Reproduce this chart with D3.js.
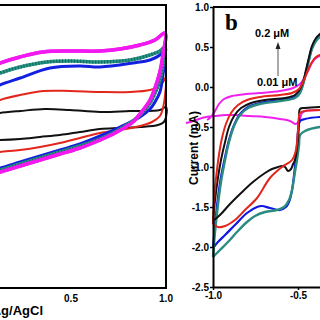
<!DOCTYPE html>
<html>
<head>
<meta charset="utf-8">
<script src="https://d3js.org/d3.v7.min.js"></script>
<style>
body{margin:0;background:#fff;}
svg{display:block;}
text{font-family:Arial,"Liberation Sans",sans-serif;font-weight:bold;fill:#000;}
</style>
</head>
<body>
<div id="chart"></div>
<script>
// ---- panel a (cut off on the left): [E (V), I (mA)], forward then reverse ----
var leftMagenta = [[0.10,0.40],[0.126,0.42],[0.232,0.48],[0.353,0.53],[0.495,0.54],[0.653,0.54],[0.758,0.56],[0.863,0.60],[0.942,0.65],[0.995,0.72],
  [0.984,0.50],[0.968,0.33],[0.942,0.17],[0.916,0.05],[0.863,-0.09],[0.826,-0.17],[0.732,-0.28],[0.653,-0.35],[0.547,-0.43],[0.442,-0.49],[0.337,-0.55],[0.232,-0.61],[0.126,-0.67],[0.10,-0.68]];
var leftTeal = [[0.10,0.30],[0.126,0.32],[0.232,0.38],[0.374,0.43],[0.495,0.44],[0.653,0.43],[0.811,0.45],[0.916,0.50],[0.968,0.54],[0.995,0.58],
  [0.984,0.40],[0.968,0.25],[0.942,0.12],[0.916,0.02],[0.863,-0.10],[0.826,-0.16],[0.732,-0.27],[0.653,-0.34],[0.547,-0.41],[0.442,-0.47],[0.337,-0.53],[0.232,-0.59],[0.126,-0.65],[0.10,-0.66]];
var leftBlue = [[0.10,0.17],[0.126,0.20],[0.232,0.27],[0.389,0.37],[0.547,0.39],[0.653,0.38],[0.826,0.42],[0.916,0.45],[0.968,0.50],[0.995,0.56],
  [0.984,0.30],[0.968,0.13],[0.942,0.03],[0.916,-0.04],[0.863,-0.12],[0.758,-0.22],[0.653,-0.31],[0.547,-0.39],[0.442,-0.45],[0.337,-0.51],[0.232,-0.57],[0.126,-0.63],[0.10,-0.64]];
var leftRed = [[0.10,0.03],[0.126,0.05],[0.232,0.10],[0.353,0.14],[0.495,0.14],[0.653,0.13],[0.811,0.13],[0.916,0.15],[0.953,0.18],[0.984,0.23],[1.0,0.28],
  [0.995,0.10],[0.984,-0.03],[0.968,-0.11],[0.926,-0.17],[0.863,-0.21],[0.758,-0.25],[0.653,-0.28],[0.547,-0.33],[0.442,-0.38],[0.337,-0.42],[0.232,-0.45],[0.126,-0.47],[0.10,-0.48]];
var leftBlack = [[0.10,-0.09],[0.126,-0.08],[0.232,-0.06],[0.363,-0.04],[0.495,-0.05],[0.653,-0.07],[0.811,-0.06],[0.968,-0.05],[1.0,-0.02],
  [1.0,-0.12],[0.989,-0.17],[0.958,-0.20],[0.863,-0.22],[0.758,-0.23],[0.653,-0.24],[0.547,-0.27],[0.442,-0.30],[0.337,-0.32],[0.232,-0.34],[0.126,-0.35],[0.10,-0.35]];
// only the ticks that are inside the crop
var leftXTicks = [0.5, 1.0];

// ---- panel b: [E (V), I (mA)], forward then reverse ----
var rightMagenta = [[-1.035,-0.4125],[-1.012,-0.375],[-0.988,-0.3],[-0.965,-0.2125],[-0.935,-0.15],[-0.888,-0.1125],[-0.806,-0.0875],[-0.724,-0.075],[-0.606,-0.05],[-0.529,-0.0125],[-0.488,0.0375],[-0.465,0.1],[-0.441,0.2],[-0.418,0.3],[-0.394,0.3625],[-0.371,0.3875],[-0.341,0.4125],
  [-0.341,-0.275],[-0.371,-0.2875],[-0.459,-0.3],[-0.476,-0.325],[-0.494,-0.425],[-0.512,-0.4625],[-0.547,-0.425],[-0.606,-0.4],[-0.694,-0.375],[-0.782,-0.3625],[-0.871,-0.35],[-0.924,-0.35],[-0.988,-0.3625],[-1.041,-0.375],[-1.1,-0.4125],[-1.135,-0.4375],[-1.159,-0.45]];
var rightRed = [[-1.0,-1.7125],[-0.994,-1.4125],[-0.982,-1.1375],[-0.965,-0.85],[-0.947,-0.6375],[-0.924,-0.4625],[-0.894,-0.325],[-0.853,-0.225],[-0.8,-0.1625],[-0.724,-0.125],[-0.606,-0.1],[-0.535,-0.075],[-0.494,-0.025],[-0.465,0.0875],[-0.441,0.2125],[-0.418,0.3125],[-0.394,0.375],[-0.371,0.4],[-0.341,0.4125],
  [-0.341,-0.2875],[-0.371,-0.2875],[-0.459,-0.3],[-0.488,-0.325],[-0.5,-0.5375],[-0.512,-0.7875],[-0.535,-0.9125],[-0.594,-1.0],[-0.665,-1.1375],[-0.741,-1.3875],[-0.812,-1.5375],[-0.871,-1.6625],[-0.929,-1.7375],[-0.971,-1.75],[-1.0,-1.7125]];
var rightBlue = [[-1.0,-2.0125],[-0.988,-1.725],[-0.971,-1.3875],[-0.953,-1.125],[-0.929,-0.875],[-0.906,-0.6625],[-0.876,-0.475],[-0.841,-0.3375],[-0.794,-0.25],[-0.724,-0.2],[-0.606,-0.1625],[-0.518,-0.125],[-0.488,-0.0625],[-0.471,0.0375],[-0.453,0.1875],[-0.435,0.35],[-0.418,0.4875],[-0.394,0.5875],[-0.371,0.6375],[-0.341,0.6875],
  [-0.341,-0.375],[-0.371,-0.375],[-0.459,-0.4],[-0.488,-0.425],[-0.5,-0.5625],[-0.506,-0.725],[-0.518,-1.0],[-0.535,-1.2875],[-0.553,-1.4375],[-0.571,-1.5],[-0.606,-1.5375],[-0.665,-1.5125],[-0.712,-1.4875],[-0.741,-1.5],[-0.8,-1.575],[-0.871,-1.725],[-0.929,-1.85],[-0.971,-1.9375],[-1.0,-2.0125]];
var rightBlack = [[-1.0,-1.675],[-0.988,-1.4125],[-0.971,-1.1375],[-0.953,-0.9125],[-0.929,-0.6875],[-0.906,-0.5],[-0.876,-0.3625],[-0.835,-0.2625],[-0.776,-0.2],[-0.694,-0.1625],[-0.576,-0.1375],[-0.518,-0.1],[-0.488,-0.025],[-0.471,0.0625],[-0.453,0.2125],[-0.435,0.375],[-0.418,0.5125],[-0.394,0.6125],[-0.371,0.6625],[-0.341,0.7125],
  [-0.341,-0.25],[-0.371,-0.25],[-0.459,-0.2625],[-0.488,-0.275],[-0.494,-0.4125],[-0.5,-0.6625],[-0.518,-0.9125],[-0.529,-0.9625],[-0.541,-1.025],[-0.559,-1.05],[-0.576,-1.0],[-0.594,-0.9875],[-0.618,-1.0],[-0.653,-1.025],[-0.694,-1.075],[-0.765,-1.1875],[-0.841,-1.3375],[-0.9,-1.4625],[-0.959,-1.6],[-1.0,-1.675]];
var rightTeal = [[-1.0,-2.125],[-0.988,-1.8125],[-0.971,-1.475],[-0.953,-1.1875],[-0.929,-0.9125],[-0.906,-0.6875],[-0.876,-0.4875],[-0.841,-0.35],[-0.794,-0.2625],[-0.724,-0.2125],[-0.606,-0.175],[-0.518,-0.1375],[-0.488,-0.075],[-0.471,0.025],[-0.453,0.175],[-0.435,0.3375],[-0.418,0.475],[-0.394,0.575],[-0.371,0.625],[-0.341,0.675],
  [-0.341,-0.5],[-0.371,-0.5],[-0.459,-0.55],[-0.488,-0.6],[-0.494,-0.725],[-0.506,-0.9125],[-0.518,-1.0625],[-0.535,-1.2875],[-0.553,-1.4125],[-0.582,-1.5],[-0.624,-1.5375],[-0.694,-1.5625],[-0.753,-1.6125],[-0.8,-1.6875],[-0.859,-1.8125],[-0.912,-1.9375],[-0.959,-2.0375],[-1.0,-2.125]];
// only the ticks that are inside the crop
var rightXTicks = [-1.0, -0.5];
var rightYTicks = [1.0, 0.5, 0.0, -0.5, -1.0, -1.5, -2.0, -2.5];
var concLabels = ["0.2 \u03bcM", "0.01 \u03bcM"];

var w = 320, h = 320;
var svg = d3.select("#chart").append("svg")
    .attr("width", w)
    .attr("height", h);

var fmt = function(d){ return d.toFixed(1); };

//---------------- panel a ----------------
var xA = d3.scaleLinear().domain([-1, 1]).range([-214, 166]);
var yA = d3.scaleLinear().domain([-1.83, 1.0]).range([288, 5]);

var lineA = d3.line()
    .x(function(d){ return xA(d[0]); })
    .y(function(d){ return yA(d[1]); })
    .curve(d3.curveCatmullRom.alpha(0.5));

var gA = svg.append("g");
var seriesA = [
  {data: leftBlack, color: "#111", width: 2},
  {data: leftRed, color: "#e3261c", width: 2},
  {data: leftBlue, color: "#1420e0", width: 3},
  {data: leftTeal, color: "#249685", width: 3.5},
  {data: leftMagenta, color: "#f218f0", width: 3.5}
];
seriesA.forEach(function(s){
  gA.append("path")
    .attr("d", lineA(s.data))
    .attr("fill", "none")
    .attr("stroke", s.color)
    .attr("stroke-width", s.width)
    .attr("stroke-linejoin", "round");
});
// dotted texture on the teal curve
gA.append("path")
  .attr("d", lineA(leftTeal))
  .attr("fill", "none")
  .attr("stroke", "#17665c")
  .attr("stroke-width", 3.5)
  .attr("stroke-dasharray", "1,2");
// put magenta back on top of the dots
gA.append("path")
  .attr("d", lineA(leftMagenta))
  .attr("fill", "none")
  .attr("stroke", "#f218f0")
  .attr("stroke-width", 3.5);

// frame
gA.append("rect")
  .attr("x", xA(-1))
  .attr("y", yA(1.0))
  .attr("width", xA(1) - xA(-1))
  .attr("height", yA(-1.83) - yA(1.0))
  .attr("fill", "none")
  .attr("stroke", "#000")
  .attr("stroke-width", 2);

gA.selectAll(".xtA")
  .data(leftXTicks)
  .enter()
  .append("text")
  .attr("x", function(d){ return xA(d); })
  .attr("y", 302)
  .attr("text-anchor", "middle")
  .style("font-size", "10px")
  .text(fmt);

gA.append("text")
  .attr("x", 43)
  .attr("y", 315)
  .attr("text-anchor", "end")
  .style("font-size", "13px")
  .text("E (V) vs. Ag/AgCl");

//---------------- panel b ----------------
var xB = d3.scaleLinear().domain([-1, 1]).range([213, 553]);
var yB = d3.scaleLinear().domain([-2.5, 1.0]).range([287, 7]);

var lineB = d3.line()
    .x(function(d){ return xB(d[0]); })
    .y(function(d){ return yB(d[1]); })
    .curve(d3.curveCatmullRom.alpha(0.5));

var gB = svg.append("g");
var seriesB = [
  {data: rightMagenta, color: "#f020ee", width: 2},
  {data: rightBlue, color: "#1018e0", width: 2.2},
  {data: rightTeal, color: "#2a8c80", width: 2.4},
  {data: rightBlack, color: "#111", width: 2},
  {data: rightRed, color: "#e3261c", width: 2}
];
seriesB.forEach(function(s){
  gB.append("path")
    .attr("d", lineB(s.data))
    .attr("fill", "none")
    .attr("stroke", s.color)
    .attr("stroke-width", s.width)
    .attr("stroke-linejoin", "round");
});

// axes
var axL = gB.append("g")
  .attr("transform", "translate(" + xB(-1) + ",0)")
  .call(d3.axisLeft(yB).tickValues(rightYTicks).tickSize(3).tickSizeOuter(0).tickPadding(1).tickFormat(fmt));
var axBt = gB.append("g")
  .attr("transform", "translate(0," + yB(-2.5) + ")")
  .call(d3.axisBottom(xB).tickValues(rightXTicks).tickSize(3).tickSizeOuter(0).tickPadding(2).tickFormat(fmt));
[axL, axBt].forEach(function(ax){
  ax.select(".domain").attr("stroke-width", 2);
  ax.selectAll(".tick line").attr("stroke-width", 1.5);
  ax.selectAll("text")
    .style("font-size", "10px")
    .style("font-family", "Arial, 'Liberation Sans', sans-serif")
    .style("font-weight", "bold");
});
// top border
gB.append("line")
  .attr("x1", xB(-1)).attr("x2", xB(1))
  .attr("y1", yB(1.0)).attr("y2", yB(1.0))
  .attr("stroke", "#000")
  .attr("stroke-width", 2);

gB.append("text")
  .attr("transform", "translate(198,148) rotate(-90)")
  .attr("text-anchor", "middle")
  .style("font-size", "12px")
  .text("Current (mA)");

gB.append("text")
  .attr("x", 225)
  .attr("y", 30)
  .style("font-family", "'Liberation Serif','Times New Roman',serif")
  .style("font-size", "23px")
  .text("b");

// concentration arrow
gB.append("text")
  .attr("x", 255).attr("y", 37)
  .style("font-size", "11px")
  .text(concLabels[0]);
gB.append("text")
  .attr("x", 257).attr("y", 86)
  .style("font-size", "11px")
  .text(concLabels[1]);
gB.append("line")
  .attr("x1", 278).attr("x2", 278)
  .attr("y1", 76).attr("y2", 48)
  .attr("stroke", "#555")
  .attr("stroke-width", 1);
gB.append("path")
  .attr("d", "M278,42L275.5,49L280.5,49Z")
  .attr("fill", "#222");
</script>
</body>
</html>
